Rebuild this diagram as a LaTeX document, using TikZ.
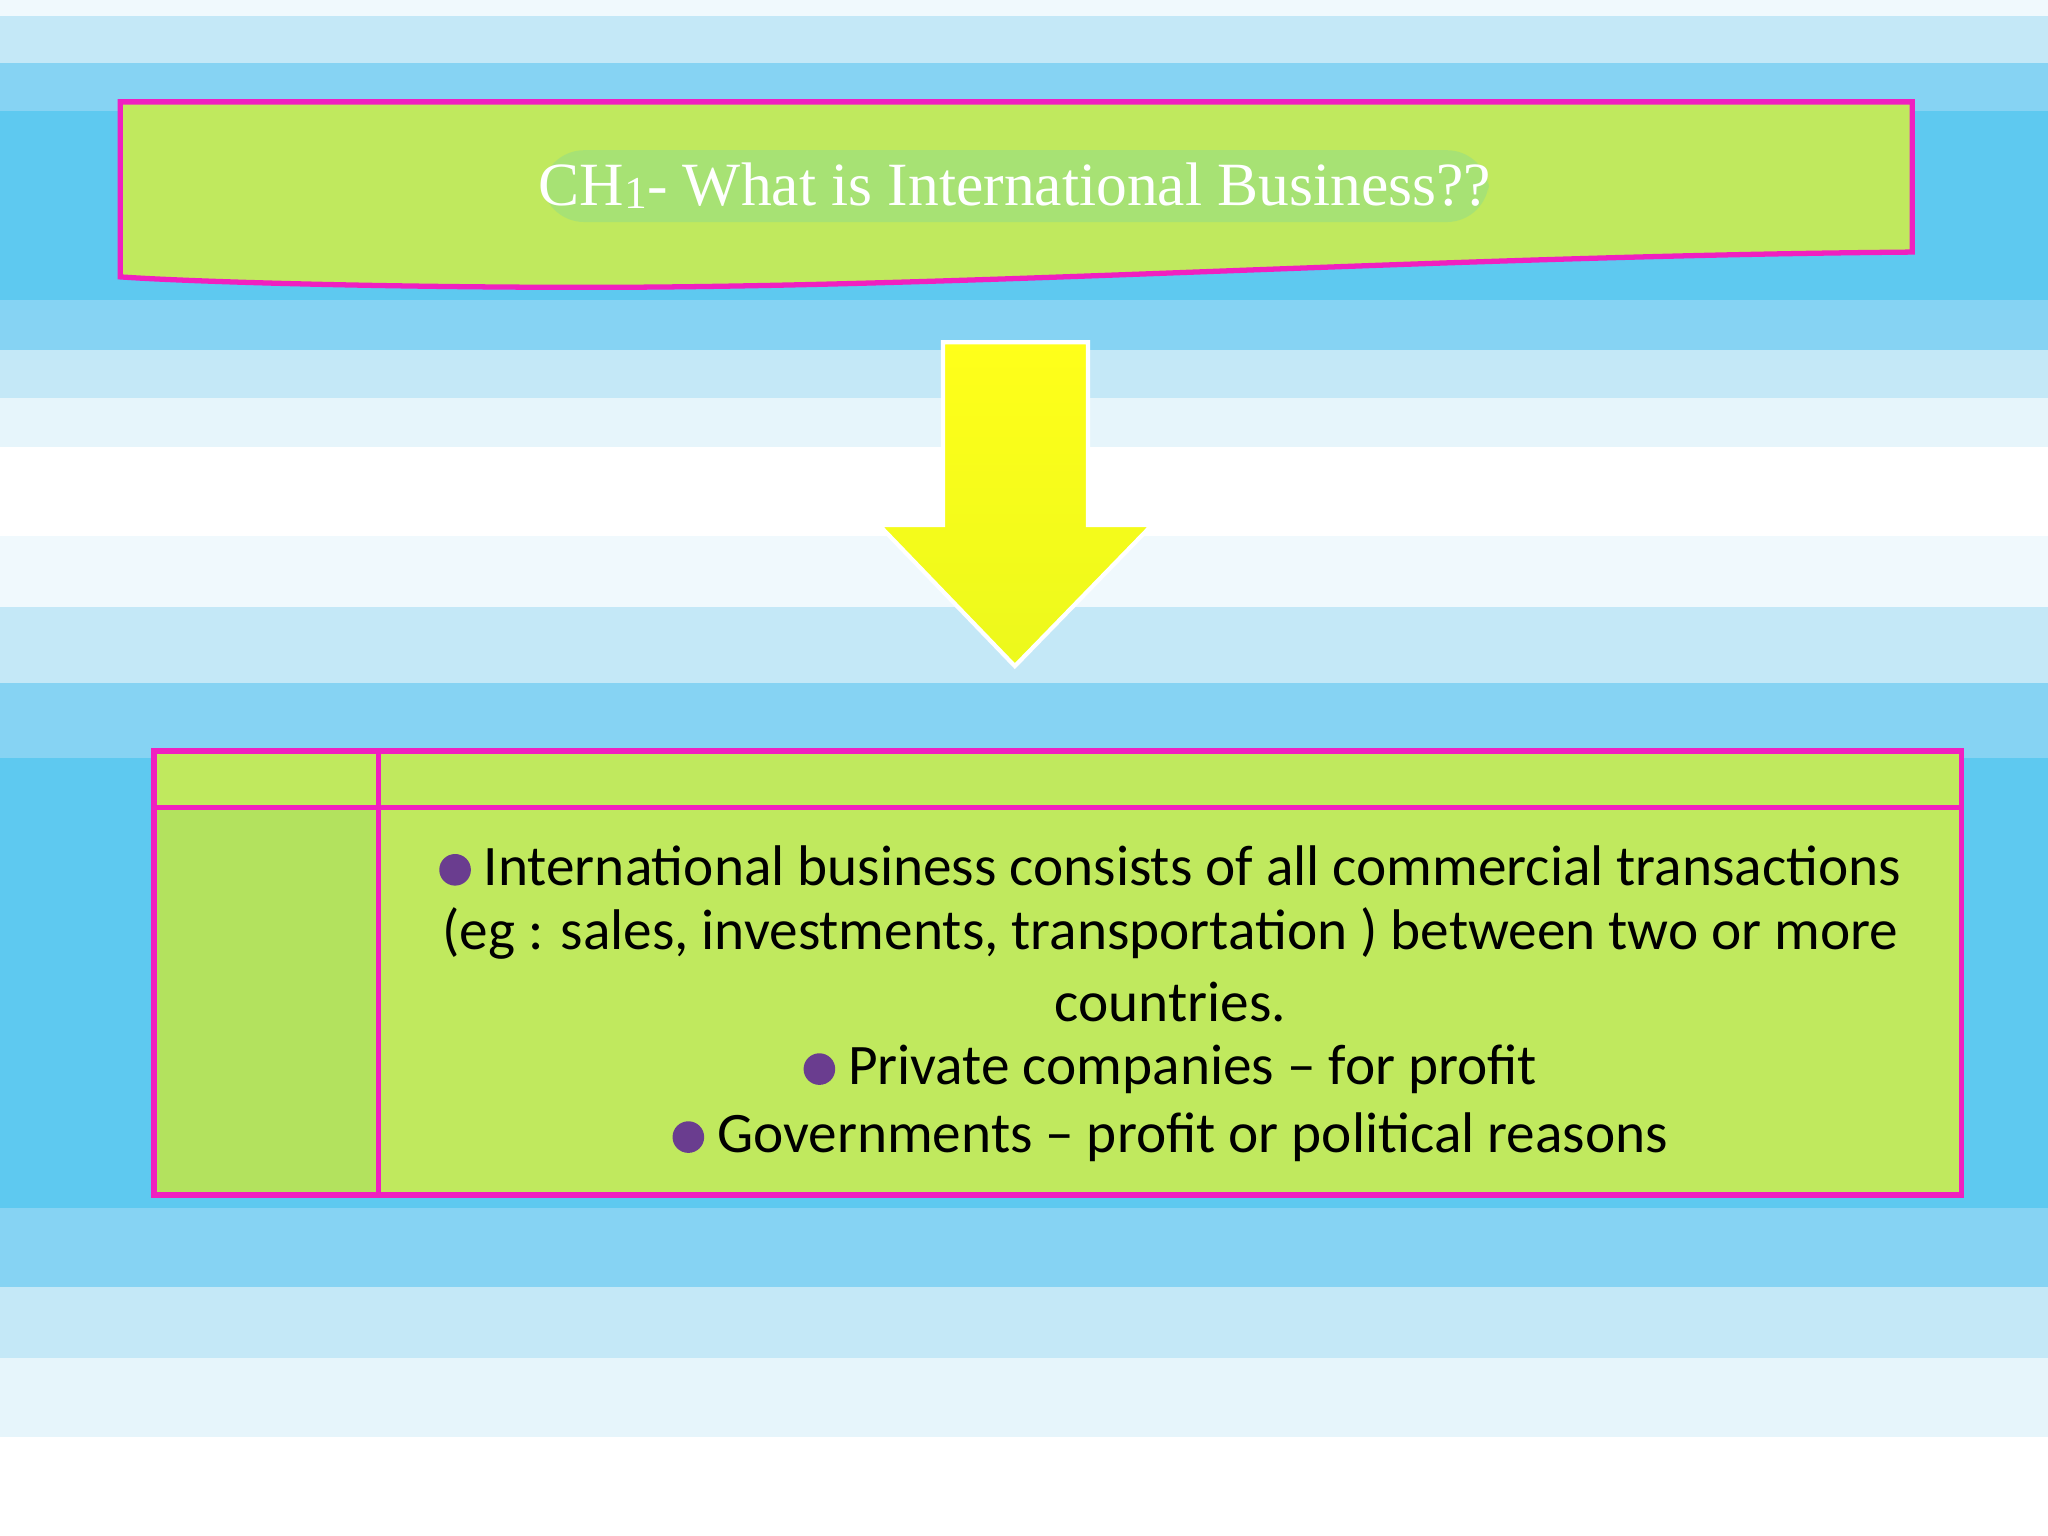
\documentclass[tikz,border=0pt]{standalone}
\usepackage{fontspec}
\setmainfont{Carlito}
\newfontfamily\titlefont{Liberation Serif}
\definecolor{bA}{HTML}{F0F9FD}
\definecolor{bB}{HTML}{C4E8F7}
\definecolor{bC}{HTML}{86D3F3}
\definecolor{bD}{HTML}{5EC9F0}
\definecolor{bE}{HTML}{E6F5FB}
\definecolor{lime}{HTML}{C0E95E}
\definecolor{limeD}{HTML}{B3E25E}
\definecolor{mag}{HTML}{F020C0}
\definecolor{bul}{HTML}{6A3D8F}
\definecolor{glow}{HTML}{8FDC8A}
\tikzset{band/.style={fill=#1,draw=none},
 frame/.style={draw=mag,line width=1.5pt},
 line/.style={font=\fontsize{16.3}{19}\selectfont,anchor=center},
 ttl/.style={font=\titlefont\fontsize{17.5}{21}\selectfont},
 bullet/.style={circle,fill=bul,inner sep=0pt,minimum size=9pt}}
\newcommand{\ttltext}{CH\raisebox{-0.05em}{\fontsize{13}{13}\selectfont 1}- What is International Business??}
\begin{document}
\begin{tikzpicture}[x=0.013061cm,y=-0.013061cm]
\useasboundingbox (0,0) rectangle (1568,1176);
\fill[white] (0,0) rectangle (1568,1176);
\fill[band=bA] (0,0) rectangle (1568,12);
\fill[band=bB] (0,12) rectangle (1568,48);
\fill[band=bC] (0,48) rectangle (1568,85);
\fill[band=bD] (0,85) rectangle (1568,230);
\fill[band=bC] (0,230) rectangle (1568,268);
\fill[band=bB] (0,268) rectangle (1568,305);
\fill[band=bE] (0,305) rectangle (1568,342);
\fill[band=bA] (0,410) rectangle (1568,465);
\fill[band=bB] (0,465) rectangle (1568,523);
\fill[band=bC] (0,523) rectangle (1568,580);
\fill[band=bD] (0,580) rectangle (1568,925);
\fill[band=bC] (0,925) rectangle (1568,985);
\fill[band=bB] (0,985) rectangle (1568,1040);
\fill[band=bE] (0,1040) rectangle (1568,1100);
% title
\draw[frame,fill=lime] (92,78) -- (1464,78) -- (1464,193)
  .. controls (1100,196) and (750,220) .. (450,220)
  .. controls (300,220) and (150,216) .. (92,212) -- cycle;
\fill[glow,opacity=0.5,rounded corners=12pt] (415,115) rectangle (1140,170);
\node[ttl,text=white] (title) at (777,142) {\ttltext};
% arrow
\shade[top color=yellow!90!white,bottom color=yellow!70!lime,draw=white,line width=1.2pt]
 (722,262) -- (833,262) -- (833,402) -- (882,402) -- (777,510) -- (673,402) -- (722,402) -- cycle;
\coordinate (tip) at (777,510);
% table
\fill[lime] (118,575) rectangle (1502,915);
\fill[limeD] (118,618) rectangle (290,915);
\draw[frame] (118,575) rectangle (1502,915);
\draw[frame] (118,618) -- (1502,618);
\draw[frame] (290,575) -- (290,915);
\node[line] (l1) at (896,663) {\tikz\node[bullet]{}; International business consists of all commercial transactions};
\node[line] (l2) at (896,715) {(eg : sales, investments, transportation ) between two or more};
\node[line] (l3) at (896,767) {countries.};
\node[line] (l4) at (896,819) {\tikz\node[bullet]{}; Private companies – for profit};
\node[line] (l5) at (896,871) {\tikz\node[bullet]{}; Governments – profit or political reasons};
\end{tikzpicture}
\end{document}
